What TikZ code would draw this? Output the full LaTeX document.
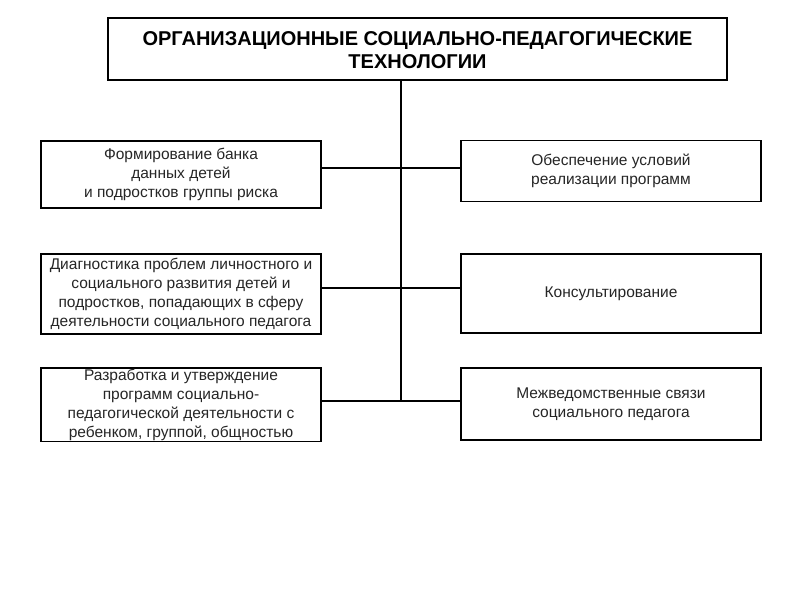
\documentclass[tikz,border=0pt]{standalone}
\usepackage{fontspec}
\setmainfont{Liberation Sans}
\usetikzlibrary{positioning,calc}

\begin{document}
\begin{tikzpicture}[x=1pt,y=-1pt,line width=1.6pt,
    font=\fontsize{15.5}{19}\selectfont]
  \tikzset{
    box/.style={draw=black,fill=white,inner sep=1pt,align=center,anchor=center,
                text=black!85},
    lbox/.style={box,minimum width=280pt},
    rbox/.style={box,minimum width=300pt},
    head/.style={box,minimum width=619pt,minimum height=62pt,text=black,
                 font=\fontsize{20}{23}\selectfont\bfseries},
    link/.style={draw=black,line width=1.6pt},
  }
  \useasboundingbox (0,0) rectangle (800,600);
  % ---- title ----
  \node[head] (tech) at (417.5,49)
       {\raisebox{0pt}[\dimexpr\height+6pt][\depth]{\begin{tabular}{@{}c@{}}ОРГАНИЗАЦИОННЫЕ СОЦИАЛЬНО-ПЕДАГОГИЧЕСКИЕ\\ТЕХНОЛОГИИ\end{tabular}}};
  % ---- left column ----
  \node[lbox,minimum height=67pt] (bank) at (181,174.5)
       {Формирование банка\\данных детей\\и подростков группы риска};
  \node[lbox,minimum height=80pt] (diag) at (181,294)
       {Диагностика проблем личностного и\\социального развития детей и\\подростков, попадающих в сферу\\деятельности социального педагога};
  \node[lbox,minimum height=73pt] (prog) at (181,404.5)
       {Разработка и утверждение\\программ социально-\\педагогической деятельности с\\ребенком, группой, общностью};
  % ---- right column ----
  \node[rbox,minimum height=61pt] (cond) at (611,171)
       {Обеспечение условий\\реализации программ};
  \node[rbox,minimum height=79pt] (cons) at (611,293.5)
       {Консультирование};
  \node[rbox,minimum height=72pt] (ties) at (611,404)
       {Межведомственные связи\\социального педагога};
  % ---- connectors ----
  \coordinate (j1) at (401,168);
  \coordinate (j2) at (401,288);
  \coordinate (j3) at (401,401);
  \draw[link] (tech.south -| j1) -- (j3);
  \draw[link] (bank.east |- j1) -- (cond.west |- j1);
  \draw[link] (diag.east |- j2) -- (cons.west |- j2);
  \draw[link] (prog.east |- j3) -- (ties.west |- j3);
\end{tikzpicture}
\end{document}
